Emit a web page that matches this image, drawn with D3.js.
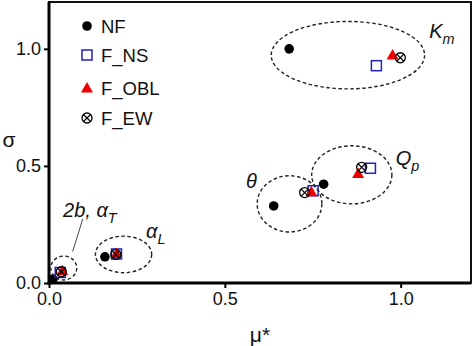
<!DOCTYPE html>
<html>
<head>
<meta charset="utf-8">
<script src="https://cdn.jsdelivr.net/npm/d3@7"></script>
<style>
  html, body { margin: 0; padding: 0; background: #fff; }
  svg { display: block; font-family: "Liberation Sans", Arial, sans-serif; }
</style>
</head>
<body>
<svg id="chart" width="474" height="346"></svg>
<script>
// Sensitivity indices per parameter group (μ*, σ), one array pair per forcing scenario
const groups   = ["2b,αT", "αL", "θ", "Qp", "Km"];
const nfMu     = [0.011, 0.159, 0.639, 0.781, 0.683];
const nfSigma  = [0.016, 0.112, 0.329, 0.422, 1.000];
const nsMu     = [0.032, 0.192, 0.751, 0.914, 0.931];
const nsSigma  = [0.045, 0.124, 0.394, 0.490, 0.928];
const oblMu    = [0.038, 0.192, 0.746, 0.879, 0.977];
const oblSigma = [0.052, 0.126, 0.390, 0.468, 0.974];
const ewMu     = [0.035, 0.190, 0.727, 0.889, 0.999];
const ewSigma  = [0.048, 0.122, 0.386, 0.494, 0.962];

const xTicks = [0.0, 0.5, 1.0];
const yTicks = [0.0, 0.5, 1.0];
const seriesNames = ["NF", "F_NS", "F_OBL", "F_EW"];

// Dashed ellipses grouping the scenarios of each parameter (centre and radii in data units)
const ellipseCx = [0.042, 0.212, 0.684, 0.861, 0.850];
const ellipseCy = [0.064, 0.122, 0.338, 0.462, 0.973];
const ellipseRx = [0.037, 0.080, 0.092, 0.114, 0.218];
const ellipseRy = [0.051, 0.078, 0.120, 0.124, 0.144];

const svg = d3.select("#chart");
const W = 474, H = 346;
const m = { left: 49, top: 2, right: 3, bottom: 63 };
const iw = W - m.left - m.right, ih = H - m.top - m.bottom;

const x = d3.scaleLinear().domain([0, 1.2]).range([m.left, m.left + iw]);
const y = d3.scaleLinear().domain([0, 1.2]).range([m.top + ih, m.top]);

// Axes
const xAxis = svg.append("g")
  .attr("transform", `translate(0,${m.top + ih})`)
  .call(d3.axisBottom(x).tickValues(xTicks).tickFormat(d3.format(".1f")).tickSize(5).tickPadding(4));
const yAxis = svg.append("g")
  .attr("transform", `translate(${m.left},0)`)
  .call(d3.axisLeft(y).tickValues(yTicks).tickFormat(d3.format(".1f")).tickSize(5).tickPadding(3));
[xAxis, yAxis].forEach(a => {
  a.select(".domain").remove();
  a.selectAll(".tick line").attr("stroke", "#000").attr("stroke-width", 2);
  a.selectAll(".tick text").attr("fill", "#111").style("font-size", "18px")
    .style("font-family", "'Liberation Sans', Arial, sans-serif");
});

// Frame
svg.append("rect")
  .attr("x", m.left).attr("y", m.top).attr("width", iw).attr("height", ih)
  .attr("fill", "none").attr("stroke", "#111").attr("stroke-width", 2);
svg.append("line").attr("x1", m.left).attr("x2", m.left).attr("y1", m.top).attr("y2", m.top + ih + 1.5)
  .attr("stroke", "#000").attr("stroke-width", 3);
svg.append("line").attr("x1", m.left - 1.5).attr("x2", m.left + iw).attr("y1", m.top + ih).attr("y2", m.top + ih)
  .attr("stroke", "#000").attr("stroke-width", 3);

// Axis titles
svg.append("text").attr("x", 260).attr("y", 342).attr("text-anchor", "middle")
  .style("font-size", "21px").attr("fill", "#111").text("μ*");
svg.append("text").attr("x", 9).attr("y", 147).attr("text-anchor", "middle")
  .style("font-size", "21px").attr("fill", "#111").text("σ");

// Group ellipses
svg.append("g").selectAll("ellipse").data(groups).join("ellipse")
  .attr("cx", (d, i) => x(ellipseCx[i]))
  .attr("cy", (d, i) => y(ellipseCy[i]))
  .attr("rx", (d, i) => x(ellipseRx[i]) - x(0))
  .attr("ry", (d, i) => y(0) - y(ellipseRy[i]))
  .attr("fill", "none").attr("stroke", "#222").attr("stroke-width", 1.4)
  .attr("stroke-dasharray", "3.5,2.5");

// Marker painters
function drawCircle(g, cx, cy) {
  g.append("circle").attr("cx", cx).attr("cy", cy).attr("r", 4.8).attr("fill", "#000");
}
function drawSquare(g, cx, cy) {
  g.append("rect").attr("x", cx - 5).attr("y", cy - 5).attr("width", 10).attr("height", 10)
    .attr("fill", "none").attr("stroke", "#2222bb").attr("stroke-width", 1.5);
}
function drawTriangle(g, cx, cy) {
  const s = 6;
  g.append("path").attr("d", `M${cx},${cy - s}L${cx + s},${cy + s * 0.75}L${cx - s},${cy + s * 0.75}Z`)
    .attr("fill", "#ee0000");
}
function drawOtimes(g, cx, cy) {
  const r = 5, k = r * Math.SQRT1_2;
  g.append("circle").attr("cx", cx).attr("cy", cy).attr("r", r)
    .attr("fill", "none").attr("stroke", "#000").attr("stroke-width", 1.3);
  g.append("path").attr("d", `M${cx - k},${cy - k}L${cx + k},${cy + k}M${cx - k},${cy + k}L${cx + k},${cy - k}`)
    .attr("stroke", "#000").attr("stroke-width", 1.2);
}

const series = [
  { mu: nfMu, sigma: nfSigma, draw: drawCircle },
  { mu: nsMu, sigma: nsSigma, draw: drawSquare },
  { mu: oblMu, sigma: oblSigma, draw: drawTriangle },
  { mu: ewMu, sigma: ewSigma, draw: drawOtimes }
];

const pts = svg.append("g");
series.forEach(s => {
  groups.forEach((gname, i) => s.draw(pts, x(s.mu[i]), y(s.sigma[i])));
});

// Legend
const leg = svg.append("g");
seriesNames.forEach((name, i) => {
  const cy = [26, 55, 88, 118][i];
  series[i].draw(leg, 87, cy);
  leg.append("text").attr("x", 101).attr("y", cy + 6.5)
    .style("font-size", "18.5px").attr("fill", "#111").text(name);
});

// Parameter labels
const lab = svg.append("g").attr("fill", "#111").style("font-style", "italic");
function label(px, py, main, sub, size) {
  const t = lab.append("text").attr("x", px).attr("y", py).style("font-size", size + "px");
  t.append("tspan").text(main);
  if (sub) t.append("tspan").attr("dy", size * 0.3).style("font-size", (size * 0.72) + "px").text(sub);
  return t;
}
// 2b, αT with its leader line
svg.append("line")
  .attr("x1", x(0.096)).attr("y1", y(0.2735)).attr("x2", x(0.0673)).attr("y2", y(0.1342))
  .attr("stroke", "#444").attr("stroke-width", 1);
label(x(0.040), y(0.282), "2b, α", "T", 20);
label(x(0.276), y(0.192), "α", "L", 20);
label(x(0.560), y(0.406), "θ", null, 20);
label(x(0.986), y(0.504), "Q", "p", 20);
label(x(1.081), y(1.048), "K", "m", 20);
</script>
</body>
</html>
